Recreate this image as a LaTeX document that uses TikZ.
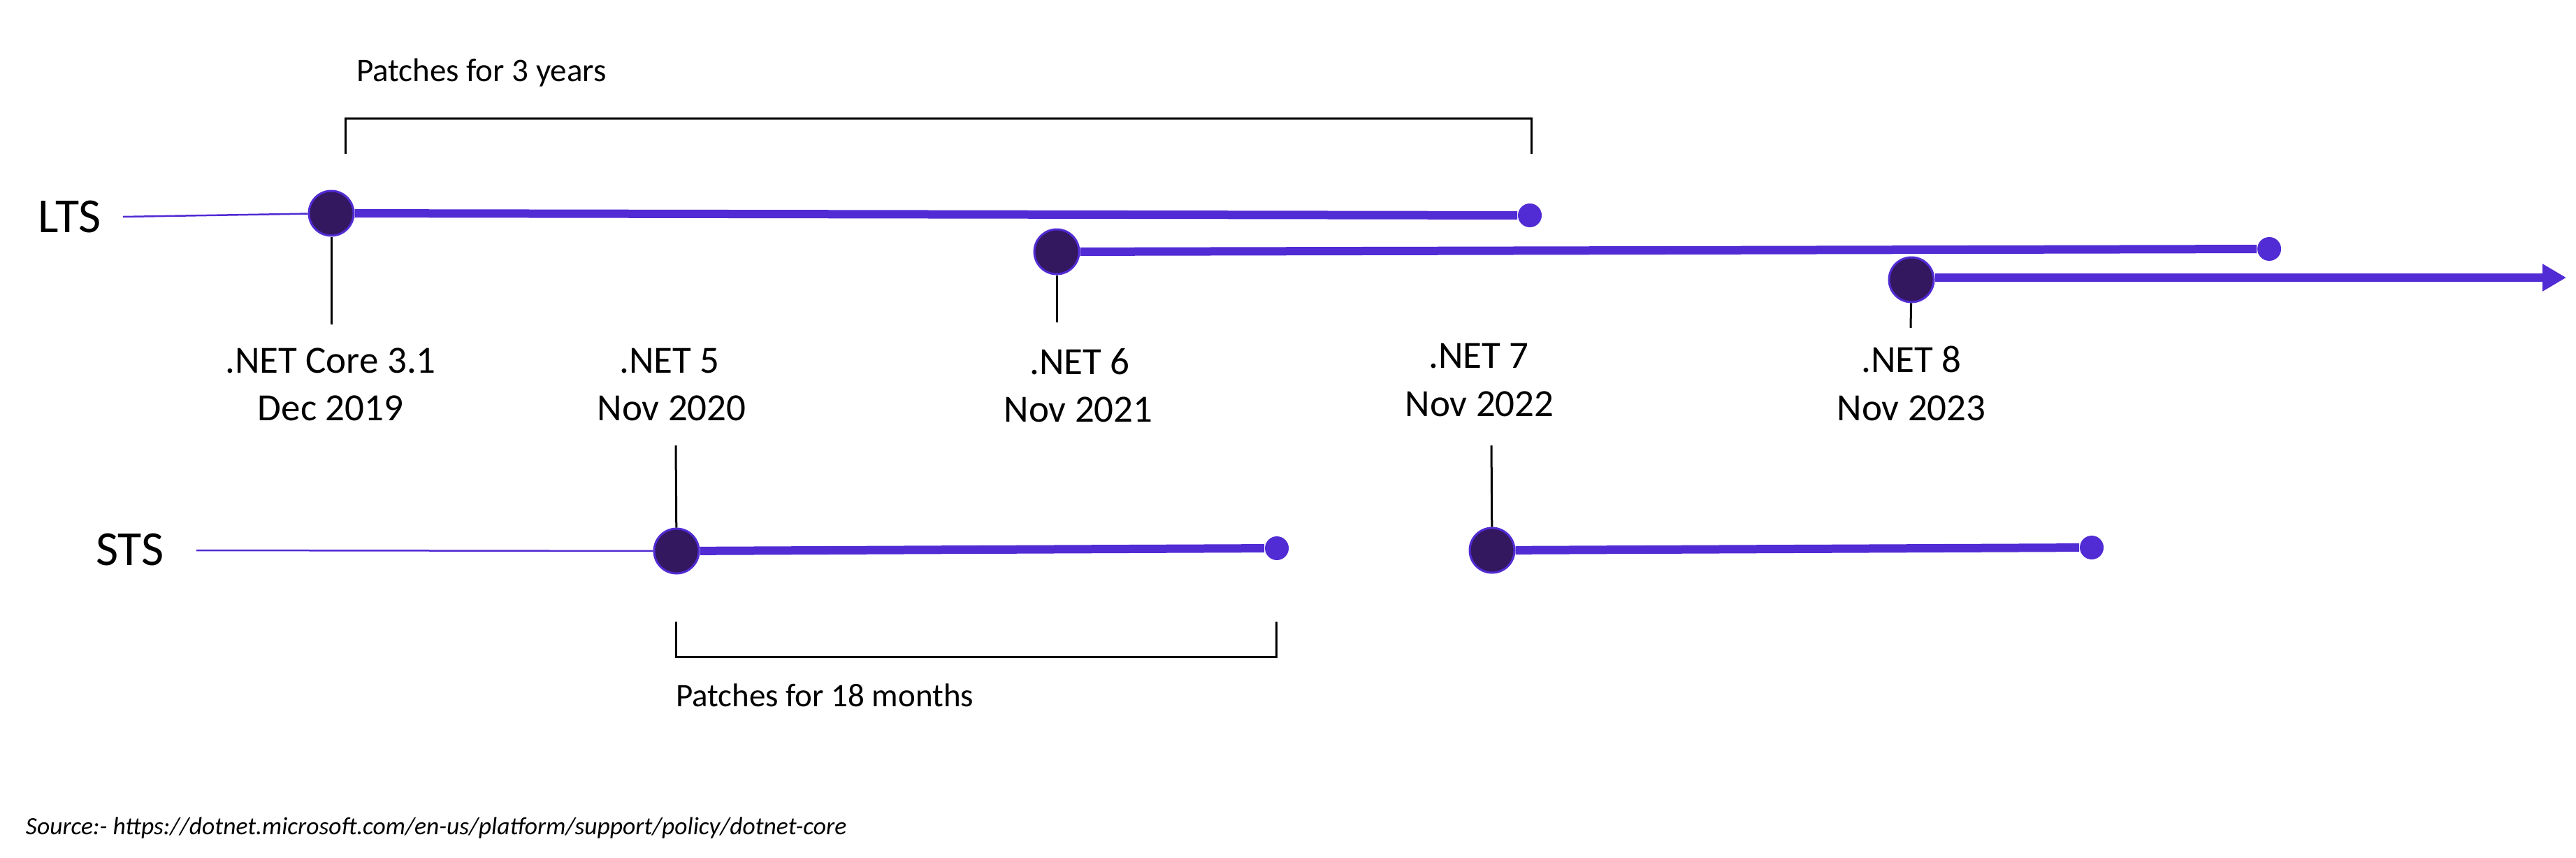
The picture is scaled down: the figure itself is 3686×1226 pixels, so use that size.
\documentclass[tikz,border=0pt]{standalone}
\usepackage{fontspec}
\setmainfont{Carlito}
\usetikzlibrary{arrows.meta}
\definecolor{netpurple}{HTML}{512BD4}
\definecolor{netdark}{HTML}{33175F}
\begin{document}
\begin{tikzpicture}[x=0.2pt,y=-0.2pt,
  rel/.style={circle,fill=netdark,draw=netpurple,line width=0.6pt,minimum size=12.8pt,inner sep=0pt},
  enddot/.style={circle,fill=netpurple,minimum size=6.8pt,inner sep=0pt},
  life/.style={netpurple,line width=2.4pt},
  thinline/.style={netpurple,line width=0.5pt},
  tick/.style={black,line width=0.6pt},
  lbl/.style={font=\fontsize{11}{13}\selectfont,anchor=base,inner sep=0pt},
  track/.style={font=\fontsize{14}{16}\selectfont,anchor=base,inner sep=0pt},
  note/.style={font=\fontsize{9.4}{11}\selectfont,anchor=base west,inner sep=0pt},
  src/.style={font=\fontsize{7.1}{9}\selectfont\itshape,anchor=base west,inner sep=0pt}]
\useasboundingbox (0,0) rectangle (3686,1226);

% track labels
\node[track] (lts) at (100,332) {LTS};
\node[track] (sts) at (186,808) {STS};
\coordinate (ltsstart) at (176,310);
\coordinate (stsstart) at (281,787);

% release circles
\node[rel] (c31) at (474,305) {};
\node[rel] (c5)  at (968,788) {};
\node[rel] (c6)  at (1512,360) {};
\node[rel] (c7)  at (2135,787) {};
\node[rel] (c8)  at (2735,400) {};

% end-of-support dots
\node[enddot] (e31) at (2189,308) {};
\node[enddot] (e6)  at (3247,356) {};
\node[enddot] (e5)  at (1827,784) {};
\node[enddot] (e7)  at (2993,783) {};
\coordinate (a8) at (3672,397);

% thin lead-in lines
\draw[thinline] (ltsstart) -- (c31);
\draw[thinline] (stsstart) -- (c5);

% support lines
\draw[life] (c31) -- (e31);
\draw[life] (c6) -- (e6);
\draw[life] (c5) -- (e5);
\draw[life] (c7) -- (e7);
\draw[life,-{Triangle[length=6.8pt,width=7.4pt]}] (c8.east |- a8) -- (a8);

% tick lines to labels
\coordinate (t31) at (474,464);
\coordinate (t5)  at (967,637);
\coordinate (t6)  at (1512,461);
\coordinate (t7)  at (2134,637);
\coordinate (t8)  at (2734,469);
\draw[tick] (c31) -- (t31);
\draw[tick] (t5) -- (c5);
\draw[tick] (c6) -- (t6);
\draw[tick] (t7) -- (c7);
\draw[tick] (c8) -- (t8);

% release labels
\node[lbl] (n31) at (473,533) {.NET Core 3.1};
\node[lbl] (d31) at (473,601) {Dec 2019};
\node[lbl] (n5)  at (958,533) {.NET 5};
\node[lbl] (d5)  at (961,601) {Nov 2020};
\node[lbl] (n6)  at (1545,535) {.NET 6};
\node[lbl] (d6)  at (1543,603) {Nov 2021};
\node[lbl] (n7)  at (2116,526) {.NET 7};
\node[lbl] (d7)  at (2117,595) {Nov 2022};
\node[lbl] (n8)  at (2735,532) {.NET 8};
\node[lbl] (d8)  at (2735,601) {Nov 2023};

% brackets
\coordinate (bt1) at (494,220);
\coordinate (bt2) at (494,169);
\coordinate (bt3) at (2191,169);
\coordinate (bt4) at (2191,220);
\draw[tick] (bt1) -- (bt2) -- (bt3) -- (bt4);
\coordinate (bb1) at (967,889);
\coordinate (bb2) at (967,939);
\coordinate (bb3) at (1826,939);
\coordinate (bb4) at (1826,889);
\draw[tick] (bb1) -- (bb2) -- (bb3) -- (bb4);

\node[note] (p3) at (509,116) {Patches for 3 years};
\node[note] (p18) at (966,1010) {Patches for 18 months};

\node[src] (source) at (36,1193) {Source:- https://dotnet.microsoft.com/en-us/platform/support/policy/dotnet-core};
\end{tikzpicture}
\end{document}
